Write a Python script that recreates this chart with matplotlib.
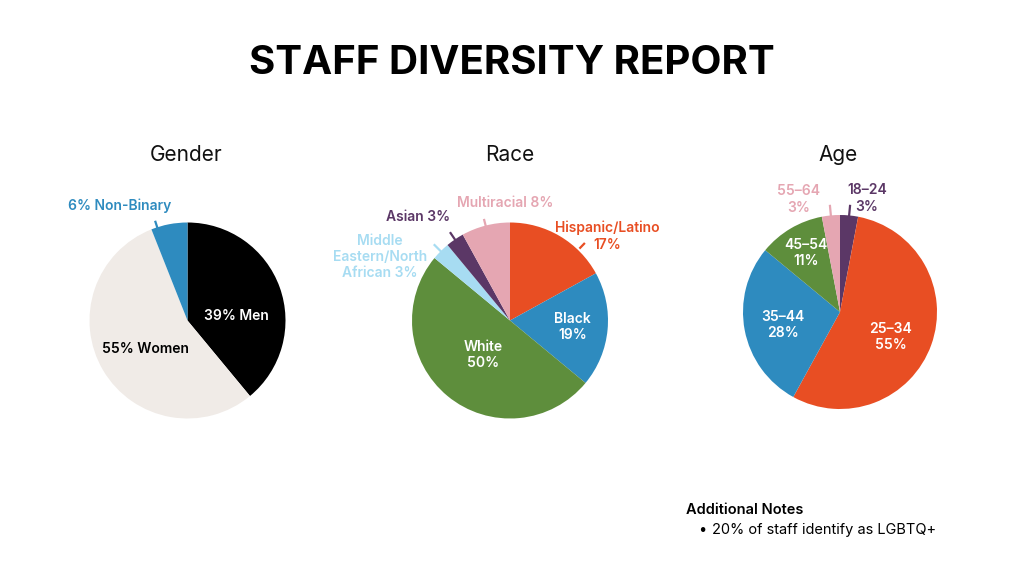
import numpy as np
import matplotlib.pyplot as plt

# --- Data -------------------------------------------------------------------------------------------------------------
gender_names = ['Men', 'Women', 'Non-Binary']
gender_values = [39, 55, 6]

race_names = ['Hispanic/Latino', 'Black', 'White', 'Middle\nEastern/North\nAfrican', 'Asian', 'Multiracial']
race_values = [17, 19, 50, 3, 3, 8]

age_names = ['18–24', '25–34', '35–44', '45–54', '55–64']
age_values = [3, 55, 28, 11, 3]

note_lines = ['20% of staff identify as LGBTQ+']

# --- Style ------------------------------------------------------------------------------------------------------------
BLACK = '#000000'
CREAM = '#F0EBE7'
BLUE = '#2E8BBF'
ORANGE = '#E84E23'
GREEN = '#5E8E3C'
LIGHTBLUE = '#A7DCF2'
PURPLE = '#5B3766'
PINK = '#E5A6B2'

gender_colors = [BLACK, CREAM, BLUE]
race_colors = [ORANGE, BLUE, GREEN, LIGHTBLUE, PURPLE, PINK]
age_colors = [PURPLE, ORANGE, BLUE, GREEN, PINK]

plt.rcParams['font.family'] = ['Inter', 'DejaVu Sans']

W, H = 1024, 576
fig = plt.figure(figsize=(W / 100, H / 100), dpi=100)
fig.patch.set_facecolor('white')


def pie_axes(cx, cy, r):
    # pixel centre/radius -> axes in figure coords
    return fig.add_axes([(cx - r) / W, 1 - (cy + r) / H, 2 * r / W, 2 * r / H])


def draw_pie(ax, values, colors, labels, layout):
    wedges, _ = ax.pie(values, colors=colors, startangle=90, counterclock=False,
                       radius=1, wedgeprops=dict(linewidth=0))
    ax.set_xlim(-1, 1)
    ax.set_ylim(-1, 1)
    ax.set_aspect('equal')
    ax.axis('off')
    for w, col, text, lay in zip(wedges, colors, labels, layout):
        x, y, inside, ang, r0, r1 = lay
        if inside:
            tc = 'white' if col != CREAM else 'black'
            ax.text(x, y, text, ha='center', va='center', color=tc, fontsize=10,
                    fontweight='semibold', linespacing=1.2)
        else:
            if ang is None:
                ang = (w.theta1 + w.theta2) / 2
            a = np.deg2rad(ang)
            ax.plot([r0 * np.cos(a), r1 * np.cos(a)], [r0 * np.sin(a), r1 * np.sin(a)],
                    color=col, lw=1.6, clip_on=False, solid_capstyle='butt')
            ax.text(x, y, text, ha='center', va='center', color=col, fontsize=10,
                    fontweight='semibold', linespacing=1.2, clip_on=False)


# --- Gender -----------------------------------------------------------------------------------------------------------
ax1 = pie_axes(187.5, 320.5, 98)
gender_text = [f'{v}% {n}' for n, v in zip(gender_names, gender_values)]
gender_layout = [(0.50, 0.05, True, None, 0, 0),
                 (-0.43, -0.29, True, None, 0, 0),
                 (-0.69, 1.17, False, 108, 0.97, 1.07)]
draw_pie(ax1, gender_values, gender_colors, gender_text, gender_layout)

# --- Race -------------------------------------------------------------------------------------------------------------
ax2 = pie_axes(510, 320.5, 98)
race_text = [f'{n}\n{v}%' for n, v in zip(race_names[:3], race_values[:3])] + \
            [f'{n} {v}%' for n, v in zip(race_names[3:], race_values[3:])]
race_layout = [(0.99, 0.86, False, 46, 1.02, 1.1),
               (0.64, -0.07, True, None, 0, 0),
               (-0.27, -0.35, True, None, 0, 0),
               (-1.33, 0.65, False, None, 0.97, 1.1),
               (-0.94, 1.06, False, None, 0.98, 1.09),
               (-0.05, 1.20, False, None, 0.98, 1.07)]
draw_pie(ax2, race_values, race_colors, race_text, race_layout)

# --- Age --------------------------------------------------------------------------------------------------------------
ax3 = pie_axes(840, 312, 97)
age_text = [f'{n}\n{v}%' for n, v in zip(age_names, age_values)]
age_layout = [(0.28, 1.17, False, None, 0.98, 1.11),
              (0.52, -0.26, True, None, 0, 0),
              (-0.59, -0.13, True, None, 0, 0),
              (-0.35, 0.61, True, None, 0, 0),
              (-0.43, 1.16, False, None, 0.98, 1.11)]
draw_pie(ax3, age_values, age_colors, age_text, age_layout)

# --- Titles / notes ---------------------------------------------------------------------------------------------------
fig.text(512 / W, 1 - 64 / H, 'STAFF DIVERSITY REPORT', ha='center', va='center',
         fontsize=29, fontweight='bold', color='black')
for cx, t in [(186, 'Gender'), (510, 'Race'), (838, 'Age')]:
    fig.text(cx / W, 1 - 155 / H, t, ha='center', va='center', fontsize=15, color='#111111')

fig.text(686 / W, 1 - 510 / H, 'Additional Notes', ha='left', va='center',
         fontsize=10.5, fontweight='semibold', color='black')
for i, line in enumerate(note_lines):
    fig.text(698 / W, 1 - (530 + 18 * i) / H, '•', ha='left', va='center', fontsize=10.5)
    fig.text(712 / W, 1 - (530 + 18 * i) / H, line, ha='left', va='center', fontsize=10.5)

fig.savefig('out.png', dpi=100, facecolor='white')
